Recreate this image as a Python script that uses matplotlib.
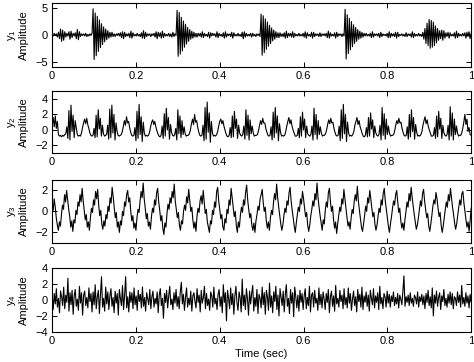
import numpy as np
import matplotlib
matplotlib.use('Agg')
import matplotlib.pyplot as plt

plt.rcParams['font.family'] = ['Liberation Sans', 'DejaVu Sans']
plt.rcParams['mathtext.default'] = 'regular'

# y1: impulses every 0.2 s with ringing, small bursts in between
y1 = [0.1, -0.2, 0.3, -0.1, 0.2, -0.4, 0.5, -0.7, 1.1, -1.2, 0.9, -1.0, 0.6, -0.4, 0.3, -0.2, 0.6, -0.8, 0.7, -0.5,
      0.3, -0.2, 0.4, -0.7, 1.0, -0.9, 0.6, -0.3, 0.2, -0.1, 0.2, -0.2, 0.3, -0.3, 0.1, -0.2, 0.2, -0.1, 0.3, 4.9,
      -4.6, 4.1, -3.9, 3.5, -3.1, 2.8, -2.4, 2.1, -1.8, 1.5, -1.3, 1.1, -0.9, 0.8, -0.6, 0.5, -0.4, 0.5, -0.3, 0.2,
      -0.3, 0.2, -0.1, 0.3, -0.2, 0.4, -0.5, 0.6, -0.7, 0.5, -0.3, 0.2, -0.2, 0.3, -0.5, 0.7, -0.6, 0.4, -0.2, 0.1,
      -0.2, 0.3, -0.2, 0.1, -0.3, 0.4, -0.6, 0.8, -0.7, 0.5, -0.3, 0.2, -0.1, 0.2, -0.3, 0.2, -0.1, 0.3, -0.4, 0.6,
      -0.7, 0.5, -0.3, 0.4, -0.6, 0.7, -0.5, 0.3, -0.2, 0.1, -0.2, 0.3, -0.3, 0.2, -0.4, 0.5, -0.3, 0.2, -0.1, 4.6,
      -4.0, 4.2, -3.6, 3.3, -3.0, 2.6, -2.3, 2.0, -1.7, 1.4, -1.2, 1.0, -0.8, 0.7, -0.6, 0.5, -0.4, 0.3, -0.4, 0.3,
      -0.2, 0.3, -0.4, 0.6, -0.5, 0.3, -0.2, 0.1, -0.3, 0.5, -0.6, 0.4, -0.2, 0.3, -0.1, 0.2, -0.4, 0.6, -0.5, 0.3,
      -0.2, 0.1, -0.3, 0.4, -0.6, 0.6, -0.4, 0.2, -0.1, 0.2, -0.3, 0.5, -0.6, 0.4, -0.2, 0.1, -0.2, 0.3, -0.2, 0.1,
      -0.3, 0.5, -0.7, 0.6, -0.4, 0.3, -0.2, 0.1, -0.2, 0.3, -0.4, 0.3, -0.2, 0.1, -0.3, 0.2, -0.1, 0.2, -0.3, 3.9,
      -3.8, 3.6, -3.3, 3.0, -2.7, 2.4, -2.1, 1.8, -1.6, 1.3, -1.1, 0.9, -0.8, 0.6, -0.5, 0.4, -0.5, 0.4, -0.3, 0.2,
      -0.3, 0.4, -0.6, 0.7, -0.5, 0.3, -0.2, 0.3, -0.4, 0.6, -0.5, 0.3, -0.2, 0.1, -0.2, 0.3, -0.2, 0.1, -0.2, 0.3,
      -0.4, 0.6, -0.6, 0.4, -0.2, 0.1, -0.3, 0.5, -0.6, 0.5, -0.3, 0.2, -0.1, 0.2, -0.3, 0.4, -0.3, 0.2, -0.1, 0.2,
      -0.2, 0.3, -0.5, 0.7, -0.6, 0.4, -0.2, 0.1, -0.2, 0.4, -0.6, 0.5, -0.3, 0.2, -0.1, 0.2, -0.3, 0.2, -0.2, 4.8,
      -4.5, 3.8, -3.5, 3.1, -2.8, 2.5, -2.2, 1.9, -1.6, 1.4, -1.2, 1.0, -0.8, 0.7, -0.6, 0.5, -0.4, 0.3, -0.2, 0.3,
      -0.2, 0.1, -0.2, 0.3, -0.5, 0.6, -0.4, 0.2, -0.1, 0.2, -0.2, 0.3, -0.5, 0.5, -0.3, 0.2, -0.1, 0.1, -0.2, 0.3,
      -0.5, 0.6, -0.5, 0.3, -0.2, 0.2, -0.3, 0.5, -0.6, 0.5, -0.3, 0.1, -0.1, 0.2, -0.2, 0.1, -0.3, 0.4, -0.3, 0.2,
      -0.1, 0.2, -0.4, 0.6, -0.5, 0.3, -0.2, 0.1, -0.2, 0.3, -0.2, 0.1, -0.3, 0.5, -0.8, 1.2, -1.6, 2.2, -2.0, 2.9,
      -2.5, 2.7, -2.3, 2.4, -2.0, 1.7, -1.5, 1.2, -1.0, 0.8, -0.7, 0.9, -1.0, 0.8, -0.6, 0.4, -0.3, 0.5, -0.6, 0.4,
      -0.2, 0.1, -0.2, 0.4, -0.6, 0.7, -0.5, 0.3, -0.2, 0.1, -0.2, 0.3, -0.2, 0.4, -0.6, 0.5, -0.3, 0.6, -0.7, 0.3]

# y2: periodic bursts and humps over a flat baseline
y2 = [0.9, 1.6, 0.4, 1.8, 0.2, 1.1, -0.6, -0.8, -0.7, -0.9, -0.7, -0.8, -0.6,
      -0.5, 0.4, -1.1, 2.5, -1.3, 3.2, -0.2, 1.9, -1.0, 1.2, 0.3, -0.6, -0.8,
      -0.7, -0.8, -0.4, 0.3, 0.9, 1.4, 0.8, 1.5, 0.7, 0.2, -0.4, -0.7, -0.8,
      -0.7, 0.2, -1.0, 1.9, -0.9, 2.6, 0.1, 1.5, -0.8, 0.6, -0.5, -0.8, -0.7,
      -0.6, 0.6, -1.2, 2.7, -1.0, 3.2, -0.4, 2.0, -1.3, 0.9, -0.2, -0.7, -0.8,
      -0.7, -0.6, -0.2, 0.5, 1.2, 0.6, 1.7, 0.9, 1.1, 0.3, -0.3, -0.7, -0.8,
      -0.7, 0.3, -1.4, 2.4, -1.1, 3.3, -0.6, 1.7, -1.5, 1.0, -0.4, -0.8, -0.7,
      -0.8, -0.7, -0.3, 0.4, 1.0, 1.3, 0.7, 1.1, 0.4, -0.1, -0.5, -0.8, -0.9,
      -0.7, 0.5, -1.1, 2.1, -0.8, 2.8, 0.0, 1.6, -1.2, 0.7, -0.3, -0.7, -0.8,
      -0.6, 0.2, -1.3, 2.6, -0.5, 1.8, -1.0, 1.2, -0.6, 0.4, -0.5, -0.8, -0.7,
      -0.7, -0.5, 0.0, 0.8, 1.4, 0.7, 2.0, 1.0, 1.2, 0.3, -0.3, -0.7, -0.8,
      -0.7, 0.6, -1.4, 2.9, -1.2, 3.6, -0.3, 2.2, -1.6, 1.1, -0.4, -0.8, -0.7,
      -0.8, -0.6, -0.2, 0.5, 1.1, 1.4, 0.8, 1.2, 0.5, 0.0, -0.5, -0.8, -0.9,
      -0.7, 0.3, -1.0, 1.8, -0.9, 2.4, 0.2, 1.4, -1.1, 0.6, -0.4, -0.7, -0.8,
      -0.6, 0.5, -1.2, 2.6, -0.7, 1.9, -1.3, 1.3, -0.5, 0.5, -0.4, -0.8, -0.7,
      -0.7, -0.6, -0.1, 0.6, 1.2, 0.7, 1.5, 0.9, 0.9, 0.2, -0.3, -0.7, -0.8,
      -0.7, 0.4, -1.3, 2.3, -1.0, 2.9, -0.4, 1.8, -1.4, 0.8, -0.3, -0.8, -0.7,
      -0.8, -0.7, -0.2, 0.5, 1.1, 1.6, 0.8, 1.3, 0.5, 0.0, -0.4, -0.8, -0.8,
      -0.7, 0.2, -1.0, 1.7, -0.8, 2.3, 0.0, 1.4, -1.0, 0.5, -0.5, -0.7, -0.8,
      -0.6, 0.5, -1.3, 2.8, -0.6, 2.0, -1.2, 1.2, -0.6, 0.4, -0.4, -0.8, -0.7,
      -0.7, -0.5, 0.0, 0.7, 1.3, 0.8, 1.5, 0.9, 1.0, 0.2, -0.3, -0.7, -0.8,
      -0.7, 0.5, -1.4, 2.6, -1.1, 3.3, -0.5, 2.0, -1.5, 1.0, -0.4, -0.8, -0.7,
      -0.8, -0.6, -0.2, 0.6, 1.1, 1.6, 0.7, 1.2, 0.4, 0.0, -0.5, -0.8, -0.9,
      -0.7, 0.3, -0.9, 1.6, -0.8, 2.2, 0.1, 1.3, -1.0, 0.5, -0.4, -0.7, -0.8,
      -0.6, 0.6, -1.3, 2.9, -0.7, 2.1, -1.2, 1.4, -0.6, 0.5, -0.4, -0.8, -0.7,
      -0.7, -0.6, -0.1, 0.6, 1.2, 0.8, 1.5, 0.9, 1.0, 0.2, -0.3, -0.7, -0.8,
      -0.7, 0.4, -1.2, 2.0, -0.9, 2.6, -0.2, 1.6, -1.2, 0.7, -0.3, -0.8, -0.7,
      -0.8, -0.6, -0.2, 0.6, 1.2, 1.7, 0.8, 1.3, 0.5, 0.0, -0.4, -0.8, -0.8,
      -0.7, 0.3, -1.1, 1.8, -0.9, 2.4, 0.1, 1.5, -1.1, 0.6, -0.4, -0.7, -0.8,
      -0.6, 0.6, -1.3, 3.0, -0.8, 2.2, -1.3, 1.4, -0.6, 0.5, -0.4, -0.8, -0.7,
      -0.7, -0.4, 0.2, 1.0, 2.0, 0.7, 1.4, -0.2, 0.3, -0.6, -0.7]

# y3: oscillation of roughly 0.03 s period with rough overlay
y3 = [0.8, 0.1, 1.2, 0.4, -0.6, -1.3, -1.8, -1.0, -1.4, -0.3, 0.6, 0.2, 1.6,
      0.9, 2.0, 1.1, 0.2, -0.5, -1.5, -0.9, -1.9, -0.8, -1.1, 0.1, -0.3, 0.9,
      0.5, 1.6, 0.9, 2.2, 1.0, 0.1, -0.8, -0.3, -1.5, -1.0, -1.8, -0.6, 0.3,
      -0.1, 1.1, 0.6, 1.9, 1.2, 2.1, 0.6, -0.4, 0.1, -1.2, -1.7, -0.9, -1.4,
      -0.3, -0.7, 0.5, 0.0, 1.3, 0.8, 2.3, 1.4, 0.4, -0.6, -0.1, -1.5, -1.0,
      -2.0, -0.9, -1.3, 0.0, -0.4, 0.9, 0.5, 1.6, 2.0, 0.9, 1.3, 0.0, -0.9,
      -0.4, -1.6, -1.1, -1.8, -0.6, 0.2, -0.1, 1.0, 1.9, 1.3, 2.7, 1.2, 0.3,
      -0.7, -0.2, -1.4, -1.0, -1.7, -0.5, 0.3, -0.1, 1.1, 0.6, 1.8, 2.2, 0.9,
      0.1, -0.9, -0.4, -1.6, -2.2, -1.1, -1.5, -0.2, 0.7, 0.2, 1.3, 0.8, 1.9,
      1.3, 2.6, 1.0, 0.2, -0.6, -0.1, -1.3, -1.8, -0.9, -1.2, 0.0, 0.6, 0.1,
      1.4, 0.8, 2.1, 1.1, 0.0, 0.4, -0.8, -1.6, -1.0, -1.9, -0.5, 0.3, -0.1,
      1.0, 1.5, 0.7, 2.0, 0.9, -0.2, 0.2, -1.0, -1.5, -2.0, -0.9, -1.2, 0.1,
      -0.3, 0.9, 0.4, 1.9, 2.3, 1.0, 0.2, -0.7, -0.3, -1.5, -1.8, -0.7, -1.1,
      0.2, -0.2, 1.1, 0.6, 2.2, 1.3, 0.4, -0.5, 0.0, -1.3, -2.0, -1.0, -1.5,
      -0.3, 0.4, -0.1, 1.1, 0.6, 1.8, 2.5, 1.1, 0.2, -0.6, -0.2, -1.3, -1.8,
      -1.1, -2.0, -0.9, -0.3, 0.5, 0.1, 1.2, 1.6, 2.1, 0.9, 0.0, 0.4, -0.9,
      -1.6, -1.0, -1.8, -0.6, 0.1, -0.3, 0.9, 1.7, 1.1, 2.6, 1.3, 0.4, -0.4,
      -1.2, -1.8, -1.3, -0.4, 0.3, -0.1, 1.0, 0.6, 1.8, 2.3, 1.0, 0.1, -0.6,
      -1.4, -2.0, -1.1, -0.3, 0.4, 0.0, 1.2, 0.7, 1.9, 1.2, 0.3, -0.5, -0.1,
      -1.3, -1.9, -1.3, -0.4, 0.2, 1.0, 0.5, 1.7, 1.1, 2.7, 1.3, 0.4, -0.4,
      -1.1, -1.8, -0.8, -1.2, 0.1, 0.9, 0.4, 1.8, 2.2, 0.9, 0.0, 0.5, -0.8,
      -1.6, -1.0, -2.1, -1.2, -0.4, 0.4, 0.0, 1.2, 0.7, 2.1, 1.2, 0.3, -0.6,
      -1.4, -1.0, -1.7, -0.6, 0.2, -0.2, 1.0, 1.6, 1.0, 2.4, 1.0, 0.1, -0.7,
      -1.5, -1.9, -1.2, -0.4, 0.5, 0.0, 1.3, 0.8, 2.0, 1.2, 0.3, -0.5, -0.1,
      -1.2, -1.8, -1.3, -0.5, 0.3, -0.1, 1.1, 0.6, 1.7, 2.2, 1.0, 0.2, -0.6,
      -1.4, -2.0, -1.2, -0.5, 0.3, 1.0, 0.6, 1.6, 2.0, 0.9, -0.1, 0.3, -0.9,
      -1.6, -1.1, -1.8, -0.8, 0.0, 0.9, 0.4, 1.7, 1.0, 2.3, 1.3, 0.5, -0.3,
      -1.0, -1.7, -1.3, -0.6, 0.2, 1.0, 0.5, 1.7, 2.1, 1.0, 0.2, -0.6, -0.2,
      -1.4, -1.9, -1.2, -0.4, 0.5, 1.1, 0.7, 1.8, 1.2, 0.3, -0.5, -0.1, -1.3,
      -2.0, -1.4, -0.6, 0.2, 0.9, 0.4, 1.6, 1.0, 2.2, 1.3, 0.4, -0.3, -1.1,
      -1.7, -1.2, -0.4, 0.4, 1.1, 0.6, 1.7, 1.9, 0.8, 0.0, -0.8, -1.5, -1.0, -1.9, -0.9, 0.3]

# y4: broadband noise with occasional spikes
y4 = [0.3, -1.2, 0.8, -0.5, 1.4, -0.9, 0.2, -1.6, 1.1, 0.4, -0.7, 1.6, -1.1, 0.6, -0.3, 2.7, -1.4, 0.9, -0.6, 1.2,
      -1.8, 0.5, 1.3, -0.8, 0.1, -1.3, 1.7, -0.4, 0.9, -1.9, 0.6, 1.1, -0.7, 0.3, -1.0, 1.5, -0.2, 0.8, -1.5, 1.0,
      -0.6, 1.9, -1.1, 0.4, 1.2, -1.7, 0.7, 2.9, -0.9, 0.2, -1.4, 1.6, -0.5, 1.0, -1.2, 0.5, 1.4, -0.8, 0.3, -1.6,
      1.1, -0.4, 0.8, -1.9, 1.3, 0.2, -0.7, 1.8, -1.2, 0.6, 2.9, -1.0, 0.4, -1.5, 1.0, -0.3, 0.9, -1.1, 1.5, -0.6,
      0.5, -1.3, 1.2, -0.2, 0.7, -1.0, 1.6, -0.8, 0.3, -1.4, 0.9, 0.1, -0.6, 1.3, -1.1, 0.4, 1.1, -0.9, 0.2, -0.5,
      1.0, -1.6, 0.6, 1.4, -0.7, 0.2, -2.3, 0.8, -0.3, 1.2, -1.0, 0.5, 1.7, -0.6, 0.1, -1.2, 0.9, -0.4, 1.3, -0.8,
      0.4, -1.1, 1.0, 2.2, -0.5, 0.7, -1.3, 0.3, 1.5, -0.9, 0.2, -0.6, 1.1, -1.4, 0.5, 0.9, -0.2, -1.0, 1.4, -0.3,
      0.6, -1.5, 1.2, -0.4, 0.3, 1.7, -1.1, 0.8, -0.7, 0.1, -1.3, 1.0, 0.5, -0.9, 1.6, -0.5, 0.2, -1.2, 0.7, 1.3,
      -0.8, 0.4, -1.6, 1.9, -0.3, 0.9, -2.6, 1.2, 0.2, -1.1, 1.5, -0.6, 0.8, -1.8, 0.5, 1.7, -0.4, -1.3, 1.0, 0.3,
      -1.5, 2.6, -0.7, 0.6, -1.2, 1.4, 0.1, -1.9, 1.1, -0.5, 0.8, 1.8, -1.4, 0.3, -0.8, 1.3, -1.7, 0.7, 0.2, -1.0,
      1.6, -0.6, 0.9, -1.8, 1.2, 0.4, -1.3, 2.1, -0.9, 0.5, -1.6, 1.0, -0.2, 1.7, -1.2, 0.6, -2.0, 1.4, 0.3, -0.7,
      1.1, -1.5, 0.7, 1.9, -0.8, 0.2, -1.7, 1.3, -0.4, 0.9, -2.1, 1.6, 0.4, -1.0, 0.6, -1.4, 1.2, -0.3, 0.8, -1.2,
      0.5, 1.4, -1.1, 0.3, -0.7, 1.7, -1.5, 0.6, 0.9, -0.9, 1.2, -0.4, 0.2, -1.3, 1.5, -0.6, 0.7, -1.0, 1.0, 0.1,
      -1.2, 0.8, -0.3, 1.3, -1.6, 0.4, 1.1, -0.8, 0.5, -1.4, 1.8, -0.5, 0.2, -0.9, 1.2, -0.2, 0.6, -1.1, 1.4, -0.6,
      0.3, -1.0, 1.5, -0.4, 0.8, -1.3, 0.1, 1.1, -0.7, 0.4, -1.5, 1.3, -0.2, 0.7, -0.9, 1.6, -1.2, 0.5, -0.3, 1.0,
      -0.8, 0.6, -1.4, 1.2, 0.2, -0.6, 1.4, -1.0, 0.5, -0.3, 0.9, -1.2, 1.7, -0.5, 0.3, -1.1, 0.8, 0.4, -0.9, 1.1,
      -0.4, 0.7, -0.9, 0.5, -0.2, 1.0, -0.7, 0.3, -0.5, 0.8, -1.0, 0.6, 0.1, -0.6, 1.1, 3.0, -0.8, 0.4, -0.3, 0.6,
      -0.7, 0.9, -0.4, 0.2, -0.8, 0.6, 0.3, -0.5, 1.0, -0.9, 0.4, -0.2, 0.7, -0.6, 0.5, -1.1, 0.8, -0.3, 1.2, -0.7,
      0.4, -1.0, 1.5, -2.0, 0.6, -0.4, 1.1, -0.8, 0.3, 0.9, -1.2, 0.5, -0.2, 1.3, -0.7, 0.2, -0.9, 0.7, -0.4, 1.0,
      -0.6, 0.8, -1.1, 0.4, 0.2, -0.7, 1.0, -0.3, 0.6, -0.9, 1.8, -0.5, 0.3, -0.8, 0.9, -0.4, 0.5, -1.0, 0.7, -0.3]

signals = [y1, y2, y3, y4]
names = ['y$_1$', 'y$_2$', 'y$_3$', 'y$_4$']
ylims = [(-6, 6), (-3, 5), (-3, 3), (-4, 4)]
yticks = [[-5, 0, 5], [-2, 0, 2, 4], [-2, 0, 2], [-4, -2, 0, 2, 4]]
xticks = [0, 0.2, 0.4, 0.6, 0.8, 1]
xticklabels = ['0', '0.2', '0.4', '0.6', '0.8', '1']

boxes = [[0.110, 0.815, 0.884, 0.177],
         [0.110, 0.577, 0.884, 0.171],
         [0.110, 0.329, 0.884, 0.174],
         [0.110, 0.083, 0.884, 0.177]]

fig = plt.figure(figsize=(4.74, 3.62), dpi=100)

for k in range(4):
    ax = fig.add_axes(boxes[k])
    y = np.array(signals[k])
    t = np.linspace(0, 1, len(y))
    ax.plot(t, y, color='black', linewidth=0.8)
    ax.set_xlim(0, 1)
    ax.set_ylim(*ylims[k])
    ax.set_xticks(xticks)
    ax.set_xticklabels(xticklabels)
    ax.set_yticks(yticks[k])
    ax.tick_params(direction='in', top=True, right=True, length=3.5, width=0.7,
                   labelsize=8, pad=3)
    for s in ax.spines.values():
        s.set_linewidth(0.8)
    ax.set_ylabel(names[k] + '\nAmplitude', fontsize=8, linespacing=1.1)
    ax.yaxis.set_label_coords(-0.055, 0.5)
    if k == 3:
        ax.set_xlabel('Time (sec)', fontsize=8, labelpad=2)

plt.savefig('out.png', dpi=100)
